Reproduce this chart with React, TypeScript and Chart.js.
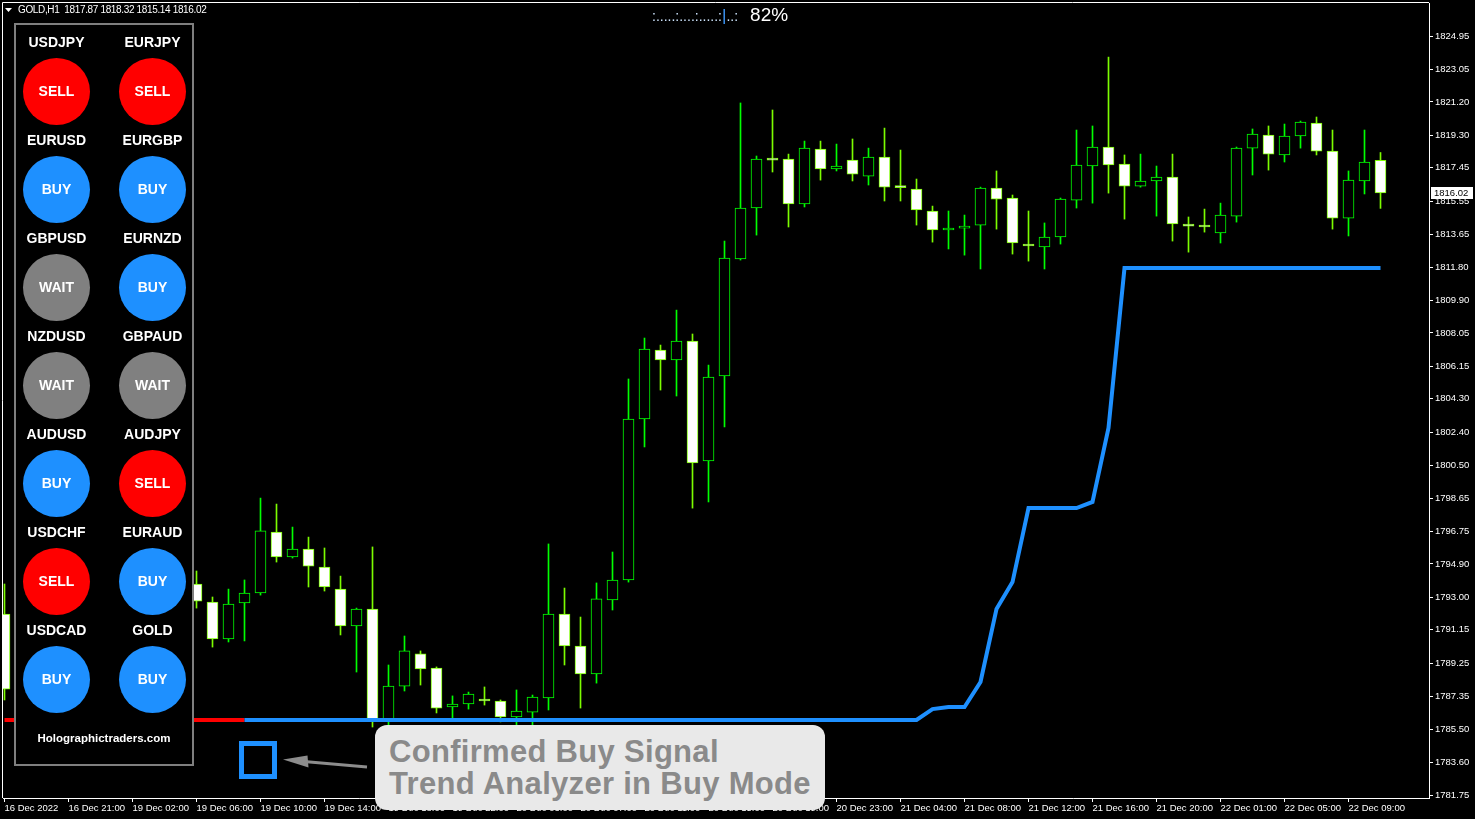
import React, { useEffect, useRef } from "react";
import { Chart, registerables } from "chart.js";

Chart.register(...registerables);

// ---- Data (GOLD, H1) ----
const OPEN = [
  1792.05, 1787.78, 1789.43, 1790.57, 1789.89, 1791.71, 1792.56, 1792.17, 1793.08, 1792.28,
  1793.42, 1794.10, 1793.76, 1792.73, 1790.63, 1792.68, 1793.25, 1796.72, 1795.30, 1795.75,
  1794.73, 1793.47, 1791.37, 1792.34, 1786.02, 1787.95, 1789.78, 1788.98, 1786.76, 1786.93,
  1787.21, 1787.10, 1786.19, 1786.47, 1787.27, 1792.05, 1790.23, 1788.64, 1792.85, 1793.99,
  1803.15, 1807.08, 1806.51, 1807.59, 1800.76, 1805.60, 1812.26, 1815.16, 1817.95, 1817.95,
  1815.39, 1818.52, 1817.38, 1817.89, 1816.98, 1818.06, 1816.35, 1816.24, 1814.99, 1813.91,
  1814.02, 1814.19, 1816.30, 1815.73, 1813.11, 1812.94, 1813.51, 1815.61, 1817.55, 1818.63,
  1817.66, 1816.41, 1816.70, 1816.92, 1814.25, 1814.13, 1813.74, 1814.70, 1818.57, 1819.31,
  1818.18, 1819.26, 1820.00, 1818.40, 1814.59, 1816.70, 1817.87,
];
const HIGH = [
  1793.76, 1790.00, 1791.14, 1791.03, 1792.17, 1792.96, 1792.85, 1793.42, 1793.53, 1793.99,
  1794.56, 1794.78, 1794.50, 1793.02, 1793.47, 1793.99, 1798.65, 1798.31, 1797.00, 1796.43,
  1795.81, 1794.21, 1792.39, 1795.87, 1789.15, 1790.80, 1789.95, 1789.04, 1787.39, 1787.61,
  1787.90, 1787.16, 1787.73, 1787.44, 1796.04, 1793.53, 1791.88, 1793.82, 1795.58, 1805.43,
  1807.76, 1807.36, 1809.35, 1807.99, 1806.22, 1813.28, 1821.14, 1818.12, 1820.74, 1818.23,
  1818.97, 1818.97, 1818.80, 1819.09, 1818.57, 1819.71, 1818.46, 1816.81, 1815.27, 1814.99,
  1814.76, 1816.35, 1817.27, 1815.90, 1814.99, 1814.31, 1815.73, 1819.60, 1819.83, 1823.75,
  1818.18, 1818.23, 1817.55, 1818.23, 1814.65, 1815.10, 1815.44, 1818.63, 1819.66, 1819.83,
  1819.94, 1820.11, 1820.34, 1819.60, 1817.27, 1819.60, 1818.32,
];
const LOW = [
  1787.16, 1787.44, 1788.98, 1789.43, 1789.66, 1791.37, 1791.82, 1791.60, 1792.00, 1792.05,
  1793.08, 1793.42, 1792.39, 1790.17, 1790.46, 1790.52, 1793.13, 1795.01, 1795.24, 1793.59,
  1793.36, 1790.86, 1788.75, 1785.62, 1785.73, 1787.67, 1788.01, 1786.42, 1786.13, 1786.64,
  1786.87, 1785.91, 1785.73, 1785.73, 1786.59, 1789.15, 1786.70, 1788.12, 1792.28, 1793.87,
  1801.56, 1804.80, 1804.46, 1798.08, 1798.43, 1802.70, 1812.20, 1813.62, 1817.21, 1814.08,
  1815.22, 1816.75, 1817.27, 1816.70, 1816.47, 1815.56, 1815.56, 1814.19, 1813.22, 1812.83,
  1812.48, 1811.69, 1813.96, 1812.54, 1812.14, 1811.69, 1813.11, 1815.16, 1815.44, 1816.01,
  1814.53, 1816.35, 1814.70, 1813.28, 1812.65, 1813.79, 1813.17, 1814.36, 1817.04, 1817.32,
  1817.78, 1818.57, 1818.18, 1813.96, 1813.57, 1815.96, 1815.14,
];
const CLOSE = [
  1787.78, 1789.43, 1790.57, 1789.89, 1791.71, 1792.56, 1792.17, 1793.08, 1792.28, 1793.42,
  1794.10, 1793.76, 1792.79, 1790.63, 1792.62, 1793.25, 1796.78, 1795.30, 1795.75, 1794.78,
  1793.59, 1791.37, 1792.34, 1786.02, 1787.95, 1789.95, 1788.92, 1786.70, 1786.93, 1787.50,
  1787.10, 1786.19, 1786.53, 1787.33, 1792.05, 1790.23, 1788.64, 1792.91, 1793.99, 1803.15,
  1807.13, 1806.51, 1807.59, 1800.65, 1805.54, 1812.31, 1815.16, 1817.95, 1817.89, 1815.39,
  1818.57, 1817.38, 1817.55, 1817.09, 1818.06, 1816.35, 1816.32, 1815.05, 1813.91, 1814.02,
  1814.13, 1816.30, 1815.67, 1813.17, 1813.00, 1813.51, 1815.67, 1817.61, 1818.63, 1817.61,
  1816.41, 1816.70, 1816.92, 1814.25, 1814.13, 1814.08, 1814.76, 1818.57, 1819.37, 1818.23,
  1819.26, 1820.05, 1818.40, 1814.59, 1816.75, 1817.78, 1816.02,
];
// Trend Analyzer line
const TREND = [
  1786.02, 1786.02, 1786.02, 1786.02, 1786.02, 1786.02, 1786.02, 1786.02, 1786.02, 1786.02,
  1786.02, 1786.02, 1786.02, 1786.02, 1786.02, 1786.02, 1786.02, 1786.02, 1786.02, 1786.02,
  1786.02, 1786.02, 1786.02, 1786.02, 1786.02, 1786.02, 1786.02, 1786.02, 1786.02, 1786.02,
  1786.02, 1786.02, 1786.02, 1786.02, 1786.02, 1786.02, 1786.02, 1786.02, 1786.02, 1786.02,
  1786.02, 1786.02, 1786.02, 1786.02, 1786.02, 1786.02, 1786.02, 1786.02, 1786.02, 1786.02,
  1786.02, 1786.02, 1786.02, 1786.02, 1786.02, 1786.02, 1786.02, 1786.02, 1786.64, 1786.76,
  1786.76, 1788.18, 1792.34, 1793.87, 1798.08, 1798.08, 1798.08, 1798.08, 1798.43, 1802.64,
  1811.74, 1811.74, 1811.74, 1811.74, 1811.74, 1811.74, 1811.74, 1811.74, 1811.74, 1811.74,
  1811.74, 1811.74, 1811.74, 1811.74, 1811.74, 1811.74, 1811.74,
];
const TREND_SELL_UNTIL = 15;

const X_TICK_INDEX = [0, 4, 8, 12, 16, 20, 24, 28, 32, 36, 40, 44, 48, 52, 56, 60, 64, 68, 72, 76, 80, 84];
const X_TICK_LABELS = [
  "16 Dec 2022", "16 Dec 21:00", "19 Dec 02:00", "19 Dec 06:00", "19 Dec 10:00", "19 Dec 14:00",
  "19 Dec 18:00", "19 Dec 22:00", "20 Dec 03:00", "20 Dec 07:00", "20 Dec 11:00", "20 Dec 15:00",
  "20 Dec 19:00", "20 Dec 23:00", "21 Dec 04:00", "21 Dec 08:00", "21 Dec 12:00", "21 Dec 16:00",
  "21 Dec 20:00", "22 Dec 01:00", "22 Dec 05:00", "22 Dec 09:00",
];
const Y_TICKS = [
  1824.95, 1823.05, 1821.20, 1819.30, 1817.45, 1815.55, 1813.65, 1811.80, 1809.90, 1808.05,
  1806.15, 1804.30, 1802.40, 1800.50, 1798.65, 1796.75, 1794.90, 1793.00, 1791.15, 1789.25,
  1787.35, 1785.50, 1783.60, 1781.75,
];

const PANEL_PAIRS = [
  ["USDJPY", "EURJPY"],
  ["EURUSD", "EURGBP"],
  ["GBPUSD", "EURNZD"],
  ["NZDUSD", "GBPAUD"],
  ["AUDUSD", "AUDJPY"],
  ["USDCHF", "EURAUD"],
  ["USDCAD", "GOLD"],
];
const PANEL_SIGNALS = [
  ["SELL", "SELL"],
  ["BUY", "BUY"],
  ["WAIT", "BUY"],
  ["WAIT", "WAIT"],
  ["BUY", "SELL"],
  ["SELL", "BUY"],
  ["BUY", "BUY"],
];

const BULL = "#00ff00";
const BEAR = "#7cfc00";
const SIGNAL_COLORS: Record<string, string> = { SELL: "#ff0000", BUY: "#1e90ff", WAIT: "#808080" };
const AXIS_FONT = { family: "'Liberation Sans', Arial, sans-serif", size: 9.5 };

const framePlugin = {
  id: "frame",
  afterDraw(chart: any) {
    const { ctx, chartArea } = chart;
    ctx.save();
    ctx.strokeStyle = "#ffffff";
    ctx.lineWidth = 1;
    ctx.beginPath();
    ctx.moveTo(chartArea.left - 0.5, chartArea.bottom);
    ctx.lineTo(chartArea.left - 0.5, chartArea.top - 0.5);
    ctx.lineTo(chartArea.right, chartArea.top - 0.5);
    ctx.stroke();
    // current price label
    const last = CLOSE[CLOSE.length - 1];
    const y = Math.round(chart.scales.y.getPixelForValue(last));
    const x0 = chartArea.right + 2;
    ctx.fillStyle = "#ffffff";
    ctx.fillRect(x0, y - 6, 42, 12);
    ctx.fillStyle = "#000000";
    ctx.font = "9.5px 'Liberation Sans', Arial, sans-serif";
    ctx.textBaseline = "middle";
    ctx.textAlign = "left";
    ctx.fillText(last.toFixed(2), x0 + 3, y + 0.5);
    ctx.restore();
  },
};

function CandleChart() {
  const ref = useRef<HTMLCanvasElement | null>(null);
  useEffect(() => {
    if (!ref.current) return;
    const idx = OPEN.map((_, i) => i);
    const isBull = idx.map((i) => CLOSE[i] > OPEN[i]);
    const chart = new Chart(ref.current, {
      type: "bar",
      data: {
        datasets: [
          {
            type: "line",
            data: TREND.map((v, i) => ({ x: i, y: v })),
            borderWidth: 4,
            pointRadius: 0,
            tension: 0,
            borderColor: "#1e90ff",
            segment: {
              borderColor: (c: any) => (c.p0DataIndex < TREND_SELL_UNTIL ? "#ff0000" : "#1e90ff"),
            },
            order: 0,
          } as any,
          {
            data: idx.map((i) => ({ x: i, y: [OPEN[i], CLOSE[i]] })),
            backgroundColor: idx.map((i) => (isBull[i] ? "#000000" : "#ffffff")),
            borderColor: idx.map((i) => (isBull[i] ? BULL : BEAR)),
            borderWidth: 1,
            borderSkipped: false,
            barThickness: 11,
            maxBarThickness: 11,
            minBarLength: 2,
            grouped: false,
            order: 1,
          } as any,
          {
            data: idx.map((i) => ({ x: i, y: [LOW[i], HIGH[i]] })),
            backgroundColor: idx.map((i) => (isBull[i] ? BULL : BEAR)),
            borderWidth: 0,
            barThickness: 1,
            maxBarThickness: 1,
            grouped: false,
            order: 2,
          } as any,
        ],
      },
      options: {
        animation: false,
        responsive: false,
        devicePixelRatio: 1,
        layout: { padding: { top: 3, left: 3, right: 0, bottom: 0 } },
        plugins: { legend: { display: false }, tooltip: { enabled: false } },
        scales: {
          x: {
            type: "linear",
            min: -0.09375,
            max: 89.03125,
            offset: false,
            grid: { display: true, offset: false, drawOnChartArea: false, drawTicks: true, tickLength: 4, color: "#ffffff" },
            border: { display: true, color: "#ffffff", width: 1 },
            ticks: {
              color: "#ffffff",
              font: AXIS_FONT,
              align: "start",
              maxRotation: 0,
              autoSkip: false,
              padding: 1,
              callback: (_v: any, i: number) => X_TICK_LABELS[i],
            },
            afterBuildTicks: (s: any) => {
              s.ticks = X_TICK_INDEX.map((v) => ({ value: v }));
            },
            afterFit: (s: any) => {
              s.height = 21;
              s.paddingLeft = 0;
              s.paddingRight = 0;
            },
          },
          y: {
            type: "linear",
            position: "right",
            min: 1781.58,
            max: 1826.83,
            beginAtZero: false,
            grid: { display: true, drawOnChartArea: false, drawTicks: true, tickLength: 4, color: "#ffffff" },
            border: { display: true, color: "#ffffff", width: 1 },
            ticks: {
              color: "#ffffff",
              font: AXIS_FONT,
              autoSkip: false,
              padding: 2,
              callback: (v: any) => Number(v).toFixed(2),
            },
            afterBuildTicks: (s: any) => {
              s.ticks = Y_TICKS.map((v) => ({ value: v }));
            },
            afterFit: (s: any) => {
              s.width = 46;
              s.paddingTop = 0;
              s.paddingBottom = 0;
            },
          },
        },
      } as any,
      plugins: [framePlugin],
    });
    return () => chart.destroy();
  }, []);
  return (
    <canvas
      ref={ref}
      width={1475}
      height={819}
      style={{ position: "absolute", left: 0, top: 0, width: 1475, height: 819 }}
    />
  );
}

const SANS = "'Liberation Sans', Arial, sans-serif";

export default function App() {
  const colX = [56.5, 152.5];
  return (
    <div
      style={{
        position: "fixed",
        left: 0,
        top: 0,
        width: 1475,
        height: 819,
        background: "#000",
        overflow: "hidden",
        fontFamily: SANS,
      }}
    >
      <CandleChart />
      {/* header */}
      <svg style={{ position: "absolute", left: 0, top: 0 }} width={14} height={16}>
        <polygon points="5,8 12,8 8.5,12" fill="#ffffff" />
      </svg>
      <div
        style={{
          position: "absolute",
          left: 18,
          top: 4,
          fontSize: 10,
          letterSpacing: "-0.35px",
          lineHeight: "12px",
          color: "#ffffff",
          whiteSpace: "pre",
        }}
      >
        {"GOLD,H1  1817.87 1818.32 1815.14 1816.02"}
      </div>
      <div
        style={{
          position: "absolute",
          left: 652,
          top: 4,
          height: 22,
          lineHeight: "22px",
          whiteSpace: "pre",
          color: "#cfe6ff",
          fontSize: 14,
        }}
      >
        <span>{":.....:....:.....:"}</span>
        <span style={{ color: "#3f9bff", fontSize: 17 }}>|</span>
        <span>{"..:"}</span>
        <span style={{ color: "#ffffff", fontSize: 19, marginLeft: 12 }}>82%</span>
      </div>
      {/* signal panel */}
      <div
        style={{
          position: "absolute",
          left: 14,
          top: 23,
          width: 180,
          height: 743,
          boxSizing: "border-box",
          border: "2px solid #7f7f7f",
          background: "#000",
        }}
      />
      {PANEL_PAIRS.map((row, r) =>
        row.map((name, c) => {
          const cx = colX[c];
          const ly = 42 + 98 * r;
          const cy = 91 + 98 * r;
          const sig = PANEL_SIGNALS[r][c];
          return (
            <React.Fragment key={`${r}-${c}`}>
              <div
                style={{
                  position: "absolute",
                  left: cx - 50,
                  width: 100,
                  top: ly - 9,
                  lineHeight: "18px",
                  textAlign: "center",
                  color: "#fff",
                  fontWeight: "bold",
                  fontSize: 14,
                }}
              >
                {name}
              </div>
              <div
                style={{
                  position: "absolute",
                  left: cx - 33.5,
                  top: cy - 33.5,
                  width: 67,
                  height: 67,
                  borderRadius: "50%",
                  background: SIGNAL_COLORS[sig],
                  color: "#fff",
                  fontWeight: "bold",
                  fontSize: 14,
                  lineHeight: "67px",
                  textAlign: "center",
                }}
              >
                {sig}
              </div>
            </React.Fragment>
          );
        })
      )}
      <div
        style={{
          position: "absolute",
          left: 14,
          width: 180,
          top: 731,
          lineHeight: "14px",
          textAlign: "center",
          color: "#fff",
          fontWeight: "bold",
          fontSize: 11.5,
        }}
      >
        Holographictraders.com
      </div>
      {/* annotation */}
      <div
        style={{
          position: "absolute",
          left: 239,
          top: 741,
          width: 38,
          height: 38,
          boxSizing: "border-box",
          border: "5px solid #1e90ff",
        }}
      />
      <svg style={{ position: "absolute", left: 270, top: 745 }} width={110} height={30}>
        <line x1={97} y1={22} x2={34} y2={16.5} stroke="#8c8c8c" strokeWidth={3} />
        <polygon points="13,14.5 37.5,10.5 38.5,22.5" fill="#8c8c8c" />
      </svg>
      <div
        style={{
          position: "absolute",
          left: 375,
          top: 725,
          width: 450,
          height: 85,
          background: "#e9e9e9",
          borderRadius: 12,
        }}
      />
      <div
        style={{
          position: "absolute",
          left: 389,
          top: 736,
          color: "#8a8a8a",
          fontWeight: "bold",
          fontSize: 31,
          letterSpacing: "0.3px",
          lineHeight: "32px",
          whiteSpace: "pre",
        }}
      >
        {"Confirmed Buy Signal\nTrend Analyzer in Buy Mode"}
      </div>
    </div>
  );
}
